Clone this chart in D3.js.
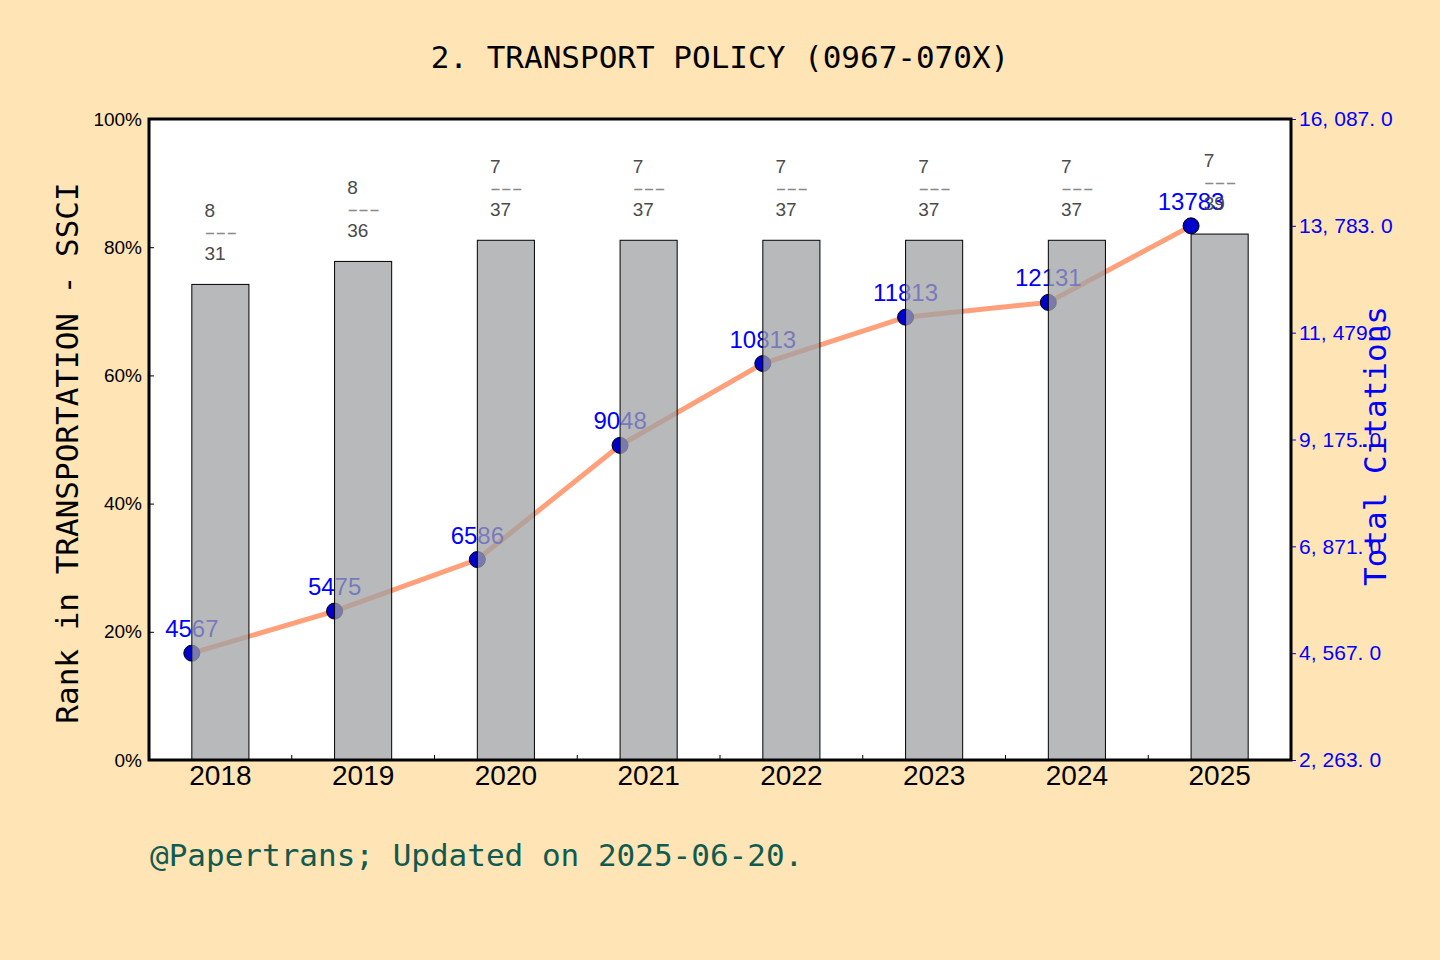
<!DOCTYPE html>
<html>
<head>
<meta charset="utf-8">
<script src="https://cdn.jsdelivr.net/npm/d3@7"></script>
<style>
  html, body { margin: 0; padding: 0; background: #ffe4b5; }
  svg { display: block; }
</style>
</head>
<body>
<svg width="1440" height="960"></svg>
<script>
const years = ['2018', '2019', '2020', '2021', '2022', '2023', '2024', '2025'];
const ranks = [8, 8, 7, 7, 7, 7, 7, 7];
const totals = [31, 36, 37, 37, 37, 37, 37, 39];
const citations = [4567, 5475, 6586, 9048, 10813, 11813, 12131, 13783];
const leftTicks = [0, 0.2, 0.4, 0.6, 0.8, 1];
const rightTicks = [2263, 4567, 6871, 9175, 11479, 13783, 16087];

const MARGIN = { left: 149, right: 1291, top: 119, bottom: 760 };
const MONO = '"DejaVu Sans Mono", monospace';
const SANS = '"Liberation Sans", Arial, sans-serif';

const svg = d3.select('svg');

// ---------- scales ----------

const x = d3.scaleBand().domain(years).range([MARGIN.left, MARGIN.right]);
const barW = x.bandwidth() * 0.4;
const center = (d) => x(d) + x.bandwidth() / 2;

const yLeft = d3.scaleLinear().domain([0, 1]).range([MARGIN.bottom, MARGIN.top]);
const yRight = d3
  .scaleLinear()
  .domain([rightTicks[0], rightTicks[rightTicks.length - 1]])
  .range([MARGIN.bottom, MARGIN.top]);

const rows = years.map((year, i) => ({
  year,
  rank: ranks[i],
  total: totals[i],
  share: 1 - ranks[i] / totals[i],
  cites: citations[i],
}));

// ---------- plot background ----------

svg
  .append('rect')
  .attr('x', MARGIN.left)
  .attr('y', MARGIN.top)
  .attr('width', MARGIN.right - MARGIN.left)
  .attr('height', MARGIN.bottom - MARGIN.top)
  .attr('fill', '#fff');

// ---------- citations line (under the bars) ----------

const px = (d) => center(d.year) - barW / 2;

svg
  .append('path')
  .datum(rows)
  .attr('fill', 'none')
  .attr('stroke', '#ffa07a')
  .attr('stroke-width', 5)
  .attr('d', d3.line().x(px).y((d) => yRight(d.cites)));

svg
  .append('g')
  .selectAll('circle')
  .data(rows)
  .join('circle')
  .attr('cx', px)
  .attr('cy', (d) => yRight(d.cites))
  .attr('r', 8)
  .attr('fill', '#0000cd')
  .attr('stroke', '#000')
  .attr('stroke-width', 1);

svg
  .append('g')
  .selectAll('text')
  .data(rows)
  .join('text')
  .attr('x', px)
  .attr('y', (d) => yRight(d.cites) - 16)
  .attr('text-anchor', 'middle')
  .attr('font-family', SANS)
  .attr('font-size', 24)
  .attr('fill', '#0000ff')
  .text((d) => d.cites);

// ---------- bars ----------

svg
  .append('g')
  .selectAll('rect')
  .data(rows)
  .join('rect')
  .attr('x', (d) => center(d.year) - barW / 2)
  .attr('y', (d) => yLeft(d.share))
  .attr('width', barW)
  .attr('height', (d) => yLeft(0) - yLeft(d.share))
  .attr('fill', '#a0a1a4')
  .attr('fill-opacity', 0.75)
  .attr('stroke', '#000')
  .attr('stroke-width', 1);

// rank / total labels
const labelG = svg
  .append('g')
  .selectAll('g')
  .data(rows)
  .join('g')
  .attr('font-family', SANS)
  .attr('font-size', 19)
  .attr('fill', '#4a4a4a')
  .attr('transform', (d) => `translate(${center(d.year) - 16},${yLeft(d.share) - 24})`);

labelG.append('text').attr('y', -43).text((d) => d.rank);
labelG
  .append('text')
  .attr('y', -21.5)
  .attr('fill', '#8a8a8a')
  .attr('textLength', 33)
  .attr('lengthAdjust', 'spacingAndGlyphs')
  .text('---');
labelG.append('text').attr('y', 0).text((d) => d.total);

// ---------- axes ----------

const leftAxis = svg
  .append('g')
  .attr('transform', `translate(${MARGIN.left},0)`)
  .call(
    d3
      .axisLeft(yLeft)
      .tickValues(leftTicks)
      .tickFormat(d3.format('.0%'))
      .tickSizeInner(-5)
      .tickSizeOuter(0)
      .tickPadding(7)
  );
leftAxis.select('.domain').remove();
leftAxis.selectAll('text').attr('font-family', SANS).attr('font-size', 19).attr('fill', '#000');

const fmtRight = d3.format(',.1f');
const rightAxis = svg
  .append('g')
  .attr('transform', `translate(${MARGIN.right},0)`)
  .call(
    d3
      .axisRight(yRight)
      .tickValues(rightTicks)
      .tickFormat('')
      .tickSizeInner(5)
      .tickSizeOuter(0)
      .tickPadding(3)
  );
rightAxis.select('.domain').remove();
rightAxis.selectAll('line').attr('stroke', '#0000ff');
rightAxis
  .selectAll('.tick text')
  .attr('font-family', SANS)
  .attr('font-size', 21)
  .attr('fill', '#0000ff')
  .each(function (d) {
    const parts = fmtRight(d).split(/([,.])/);
    const t = d3.select(this);
    let gap = 0;
    parts.forEach((p) => {
      if (!p) return;
      t.append('tspan').attr('dx', gap).text(p);
      gap = p === ',' || p === '.' ? 6 : 0;
    });
  });

const bottomAxis = svg
  .append('g')
  .attr('transform', `translate(0,${MARGIN.bottom})`)
  .call(d3.axisBottom(x).tickSize(0).tickPadding(5));
bottomAxis.select('.domain').remove();
bottomAxis.selectAll('text').attr('font-family', SANS).attr('font-size', 28).attr('fill', '#000');

// boundary ticks between categories, pointing inward
svg
  .append('g')
  .selectAll('line')
  .data(years.slice(1))
  .join('line')
  .attr('x1', (d) => x(d))
  .attr('x2', (d) => x(d))
  .attr('y1', MARGIN.bottom)
  .attr('y2', MARGIN.bottom - 5)
  .attr('stroke', '#000');

// frame
svg
  .append('rect')
  .attr('x', MARGIN.left)
  .attr('y', MARGIN.top)
  .attr('width', MARGIN.right - MARGIN.left)
  .attr('height', MARGIN.bottom - MARGIN.top)
  .attr('fill', 'none')
  .attr('stroke', '#000')
  .attr('stroke-width', 3);

// ---------- titles ----------

svg
  .append('text')
  .attr('x', 720)
  .attr('y', 68)
  .attr('text-anchor', 'middle')
  .attr('font-family', MONO)
  .attr('font-size', 31)
  .attr('fill', '#000')
  .text('2. TRANSPORT POLICY (0967-070X)');

svg
  .append('text')
  .attr('transform', 'translate(78,453) rotate(-90)')
  .attr('text-anchor', 'middle')
  .attr('font-family', MONO)
  .attr('font-size', 31)
  .attr('fill', '#000')
  .text('Rank in TRANSPORTATION - SSCI');

svg
  .append('text')
  .attr('transform', 'translate(1386,446) rotate(-90)')
  .attr('text-anchor', 'middle')
  .attr('font-family', MONO)
  .attr('font-size', 31)
  .attr('fill', '#0000ff')
  .text('Total Citations');

svg
  .append('text')
  .attr('x', 150)
  .attr('y', 866)
  .attr('font-family', MONO)
  .attr('font-size', 31)
  .attr('fill', '#105a50')
  .text('@Papertrans; Updated on 2025-06-20.');
</script>
</body>
</html>
